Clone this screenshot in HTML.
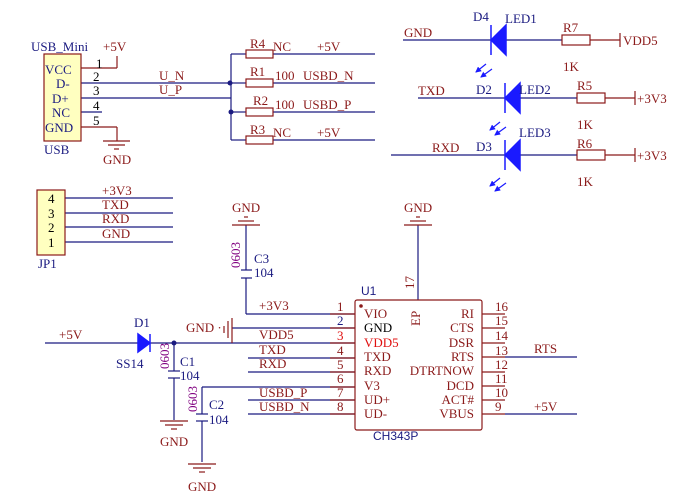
<!DOCTYPE html>
<html><head><meta charset="utf-8"><style>
html,body{margin:0;padding:0;background:#fff;}
svg{display:block;}
text{font-family:"Liberation Serif",serif;font-size:13px;}
.r{fill:#8b1a1a}.b{fill:#1a1a80}.p{fill:#800080;font-size:8px}
</style></head><body>
<svg width="693" height="503" viewBox="0 0 693 503" xmlns="http://www.w3.org/2000/svg">
<defs>
<marker id="ah" markerWidth="6" markerHeight="6" refX="5" refY="3" orient="auto" markerUnits="userSpaceOnUse">
<path d="M0,0 L6,3 L0,6 z" fill="#1a1aff"/>
</marker>
</defs>
<g stroke="#1a1a80" stroke-width="1.2" fill="none">
<line x1="80" y1="83" x2="230" y2="83"/>
<line x1="80" y1="98" x2="231" y2="98"/>
<line x1="231" y1="54" x2="231" y2="140"/>
<line x1="80" y1="112" x2="102" y2="112"/>
<line x1="231" y1="54" x2="246" y2="54"/><line x1="273" y1="54" x2="375" y2="54"/>
<line x1="231" y1="83" x2="246" y2="83"/><line x1="273" y1="83" x2="375" y2="83"/>
<line x1="231" y1="112" x2="246" y2="112"/><line x1="273" y1="112" x2="375" y2="112"/>
<line x1="231" y1="140" x2="246" y2="140"/><line x1="273" y1="140" x2="375" y2="140"/>
<line x1="403" y1="40" x2="562" y2="40"/>
<line x1="418" y1="98" x2="577" y2="98"/>
<line x1="391" y1="155" x2="577" y2="155"/>
<line x1="65" y1="198" x2="173" y2="198"/>
<line x1="65" y1="213" x2="173" y2="213"/>
<line x1="65" y1="227" x2="173" y2="227"/>
<line x1="65" y1="242" x2="173" y2="242"/>
<line x1="246" y1="225" x2="246" y2="270"/>
<line x1="246" y1="278" x2="246" y2="314"/>
<line x1="246" y1="314" x2="355" y2="314"/>
<line x1="232" y1="328" x2="355" y2="328"/>
<line x1="45" y1="343" x2="138" y2="343"/>
<line x1="150" y1="343" x2="355" y2="343"/>
<line x1="248" y1="358" x2="355" y2="358"/>
<line x1="248" y1="372" x2="355" y2="372"/>
<line x1="202" y1="387" x2="355" y2="387"/>
<line x1="202" y1="387" x2="202" y2="414"/>
<line x1="202" y1="421" x2="202" y2="462"/>
<line x1="174" y1="343" x2="174" y2="371"/>
<line x1="174" y1="378" x2="174" y2="420"/>
<line x1="248" y1="400" x2="355" y2="400"/>
<line x1="248" y1="414" x2="355" y2="414"/>
<line x1="418" y1="225" x2="418" y2="300"/>
<line x1="505" y1="357" x2="577" y2="357"/>
<line x1="505" y1="414" x2="577" y2="414"/>
<line x1="241" y1="270" x2="252" y2="270"/><line x1="241" y1="278" x2="252" y2="278"/>
<line x1="168" y1="371" x2="180" y2="371"/><line x1="168" y1="378" x2="180" y2="378"/>
<line x1="196" y1="414" x2="208" y2="414"/><line x1="196" y1="421" x2="208" y2="421"/>
</g>
<g stroke="#8b1a1a" stroke-width="1.2" fill="none">
<line x1="80" y1="68" x2="117" y2="68"/><line x1="117" y1="68" x2="117" y2="56"/>
<line x1="80" y1="127" x2="117" y2="127"/><line x1="117" y1="127" x2="117" y2="141"/>
<line x1="103" y1="141" x2="130" y2="141"/><line x1="108" y1="145" x2="125" y2="145"/><line x1="114" y1="149" x2="119" y2="149"/>
<rect x="246" y="50" width="27" height="8"/><rect x="246" y="79" width="27" height="8"/>
<rect x="246" y="108" width="27" height="8"/><rect x="246" y="136" width="27" height="8"/>
<rect x="562" y="35" width="28" height="10"/><line x1="590" y1="40" x2="620" y2="40"/><line x1="620" y1="33" x2="620" y2="47"/>
<rect x="577" y="93" width="28" height="10"/><line x1="605" y1="98" x2="635" y2="98"/><line x1="635" y1="91" x2="635" y2="105"/>
<rect x="577" y="150" width="28" height="10"/><line x1="605" y1="155" x2="635" y2="155"/><line x1="635" y1="148" x2="635" y2="162"/>
<line x1="232" y1="225" x2="260" y2="225"/><line x1="238" y1="221" x2="254" y2="221"/><line x1="244" y1="217" x2="248" y2="217"/>
<line x1="404" y1="225" x2="432" y2="225"/><line x1="410" y1="221" x2="426" y2="221"/><line x1="416" y1="217" x2="420" y2="217"/>
<line x1="160" y1="421" x2="188" y2="421"/><line x1="165" y1="425" x2="183" y2="425"/><line x1="171" y1="429" x2="177" y2="429"/>
<line x1="188" y1="464" x2="216" y2="464"/><line x1="193" y1="468" x2="211" y2="468"/><line x1="199" y1="472" x2="205" y2="472"/>
<line x1="232" y1="318" x2="232" y2="343"/><line x1="228" y1="321" x2="228" y2="338"/><line x1="224" y1="326" x2="224" y2="333"/>
<rect x="355" y="300" width="127" height="130" rx="2"/>
<line x1="330" y1="314" x2="355" y2="314"/><line x1="330" y1="328" x2="355" y2="328"/><line x1="330" y1="343" x2="355" y2="343"/>
<line x1="330" y1="358" x2="355" y2="358"/><line x1="330" y1="372" x2="355" y2="372"/><line x1="330" y1="387" x2="355" y2="387"/>
<line x1="330" y1="400" x2="355" y2="400"/><line x1="330" y1="414" x2="355" y2="414"/>
<line x1="482" y1="314" x2="505" y2="314"/><line x1="482" y1="328" x2="505" y2="328"/><line x1="482" y1="343" x2="505" y2="343"/>
<line x1="482" y1="357" x2="505" y2="357"/><line x1="482" y1="372" x2="505" y2="372"/><line x1="482" y1="386" x2="505" y2="386"/>
<line x1="482" y1="400" x2="505" y2="400"/><line x1="482" y1="414" x2="505" y2="414"/>
</g>
<rect x="44" y="54" width="37" height="87" fill="#ffffc0" stroke="#8b1a1a" stroke-width="1.2"/>
<rect x="37" y="190" width="28" height="65" fill="#ffffc0" stroke="#8b1a1a" stroke-width="1.2"/>
<g fill="#1a1aff" stroke="#1a1aff" stroke-width="1.5">
<polygon points="491,40 506,25 506,55"/><line x1="491" y1="25" x2="491" y2="55"/>
<polygon points="505,98 520,83 520,113"/><line x1="505" y1="83" x2="505" y2="113"/>
<polygon points="505,155 520,140 520,170"/><line x1="505" y1="140" x2="505" y2="170"/>
<polygon points="138,334 150,343 138,352"/><line x1="150" y1="334" x2="150" y2="352"/>
</g>
<g stroke="#1a1aff" stroke-width="1.2" marker-end="url(#ah)">
<line x1="486" y1="64" x2="476" y2="72"/><line x1="492" y1="69" x2="481" y2="77"/>
<line x1="500" y1="122" x2="490" y2="130"/><line x1="506" y1="127" x2="495" y2="135"/>
<line x1="500" y1="178" x2="490" y2="186"/><line x1="506" y1="183" x2="495" y2="191"/>
</g>
<g fill="#1a1a80">
<circle cx="230" cy="83" r="2.5"/><circle cx="231" cy="112" r="2.5"/><circle cx="174" cy="343" r="2.5"/>
<circle cx="361" cy="306" r="1.8" fill="#8b1a1a"/>
</g>
<g class="b">
<text x="31" y="51">USB_Mini</text>
<text x="45" y="74">VCC</text><text x="56" y="88">D-</text><text x="52" y="103">D+</text><text x="52" y="117">NC</text><text x="45" y="132">GND</text>
<text x="44" y="154">USB</text>
<text x="473" y="21">D4</text><text x="505" y="23">LED1</text>
<text x="476" y="94">D2</text><text x="519" y="94">LED2</text>
<text x="519" y="137">LED3</text><text x="476" y="151">D3</text>
<text x="134" y="327">D1</text>
<text x="116" y="368" font-family="Liberation Sans" font-size="12">SS14</text>
<text x="180" y="366">C1</text><text x="180" y="380">104</text>
<text x="209" y="409">C2</text><text x="209" y="424">104</text>
<text x="254" y="263">C3</text><text x="254" y="277">104</text>
<text x="361" y="295" style="font-family:'Liberation Sans';font-size:12px">U1</text>
<text x="373" y="440" style="font-family:'Liberation Sans';font-size:12px">CH343P</text>
</g>
<g fill="#000">
<text x="96" y="68" font-size="12">1</text><text x="93" y="81" font-size="12">2</text><text x="93" y="95" font-size="12">3</text><text x="93" y="110" font-size="12">4</text><text x="93" y="125" font-size="12">5</text>
<text x="48" y="203">4</text><text x="48" y="218">3</text><text x="48" y="232">2</text><text x="48" y="247">1</text>
<text x="38" y="268" class="b">JP1</text>
</g>
<g class="r">
<text x="103" y="51">+5V</text>
<text x="159" y="80">U_N</text><text x="159" y="94">U_P</text>
<text x="250" y="48">R4</text><text x="273" y="51">NC</text><text x="317" y="51">+5V</text>
<text x="250" y="76">R1</text><text x="275" y="80">100</text><text x="303" y="80">USBD_N</text>
<text x="253" y="105">R2</text><text x="275" y="109">100</text><text x="303" y="109">USBD_P</text>
<text x="250" y="134">R3</text><text x="273" y="137">NC</text><text x="317" y="137">+5V</text>
<text x="103" y="164">GND</text>
<text x="404" y="37">GND</text><text x="563" y="32">R7</text><text x="623" y="45">VDD5</text><text x="563" y="71">1K</text>
<text x="418" y="95">TXD</text><text x="577" y="90">R5</text><text x="637" y="103">+3V3</text><text x="577" y="129">1K</text>
<text x="432" y="152">RXD</text><text x="577" y="148">R6</text><text x="637" y="160">+3V3</text><text x="577" y="186">1K</text>
<text x="102" y="195">+3V3</text><text x="102" y="209">TXD</text><text x="102" y="223">RXD</text><text x="102" y="238">GND</text>
<text x="232" y="212">GND</text><text x="404" y="212">GND</text>
<text x="259" y="310">+3V3</text><text x="186" y="332">GND ·</text>
<text x="259" y="339">VDD5</text><text x="259" y="354">TXD</text><text x="259" y="368">RXD</text>
<text x="259" y="397">USBD_P</text><text x="259" y="411">USBD_N</text>
<text x="59" y="339">+5V</text>
<text x="160" y="446">GND</text><text x="188" y="491">GND</text>
<text x="337" y="311">1</text><text x="337" y="325" fill="#1a1a80">2</text><text x="337" y="340" fill="#e01010">3</text><text x="337" y="355">4</text>
<text x="337" y="369">5</text><text x="337" y="383">6</text><text x="337" y="397">7</text><text x="337" y="411">8</text>
<text x="364" y="318">VIO</text><text x="364" y="332" fill="#000">GND</text><text x="364" y="347" fill="#e01010">VDD5</text>
<text x="364" y="361">TXD</text><text x="364" y="375">RXD</text><text x="364" y="390">V3</text><text x="364" y="404">UD+</text><text x="364" y="418">UD-</text>
<text x="474" y="318" text-anchor="end">RI</text><text x="474" y="332" text-anchor="end">CTS</text><text x="474" y="347" text-anchor="end">DSR</text>
<text x="474" y="361" text-anchor="end">RTS</text><text x="474" y="375" text-anchor="end">DTRTNOW</text><text x="474" y="390" text-anchor="end">DCD</text>
<text x="474" y="404" text-anchor="end">ACT#</text><text x="474" y="418" text-anchor="end">VBUS</text>
<text x="495" y="311">16</text><text x="495" y="325">15</text><text x="495" y="340">14</text><text x="495" y="355">13</text>
<text x="495" y="369">12</text><text x="495" y="383">11</text><text x="495" y="397">10</text><text x="495" y="411">9</text>
<text x="534" y="353">RTS</text><text x="534" y="411">+5V</text>
<text transform="translate(414,289) rotate(-90)">17</text>
<text transform="translate(420,326) rotate(-90)" font-size="11">EP</text>
</g>
<g class="p">
<text transform="translate(240,268) rotate(-90)">0603</text>
<text transform="translate(169,369) rotate(-90)">0603</text>
<text transform="translate(197,412) rotate(-90)">0603</text>
</g>
</svg>
</body></html>
